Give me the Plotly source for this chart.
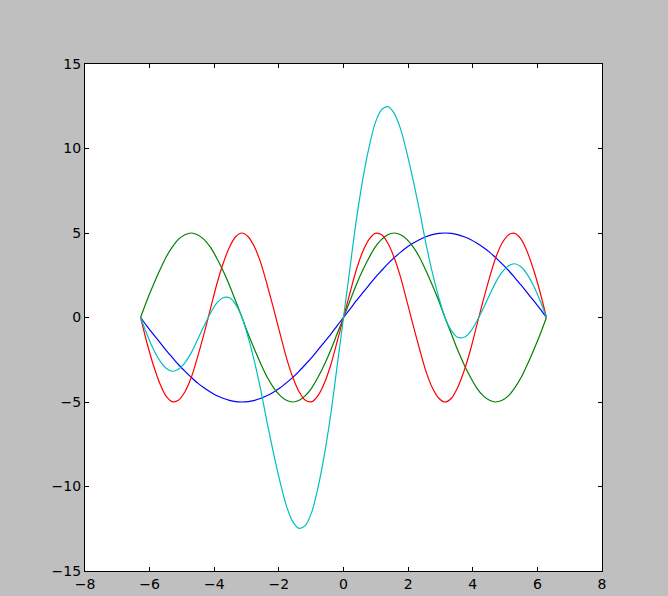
import plotly.graph_objects as go

# x sampled every pi/16 from -2pi to 2pi
x = [-6.28, -6.09, -5.89, -5.69, -5.50, -5.30, -5.11, -4.91, -4.71,
     -4.52, -4.32, -4.12, -3.93, -3.73, -3.53, -3.34, -3.14,
     -2.95, -2.75, -2.55, -2.36, -2.16, -1.96, -1.77, -1.57,
     -1.37, -1.18, -0.98, -0.79, -0.59, -0.39, -0.20, 0.00,
     0.20, 0.39, 0.59, 0.79, 0.98, 1.18, 1.37, 1.57,
     1.77, 1.96, 2.16, 2.36, 2.55, 2.75, 2.95, 3.14,
     3.34, 3.53, 3.73, 3.93, 4.12, 4.32, 4.52, 4.71,
     4.91, 5.11, 5.30, 5.50, 5.69, 5.89, 6.09, 6.28]

blue = [0, -0.49, -0.98, -1.45, -1.91, -2.36, -2.78, -3.17, -3.54,
        -3.87, -4.16, -4.41, -4.62, -4.78, -4.90, -4.98, -5.00,
        -4.98, -4.90, -4.78, -4.62, -4.41, -4.16, -3.87, -3.54,
        -3.17, -2.78, -2.36, -1.91, -1.45, -0.98, -0.49, 0,
        0.49, 0.98, 1.45, 1.91, 2.36, 2.78, 3.17, 3.54,
        3.87, 4.16, 4.41, 4.62, 4.78, 4.90, 4.98, 5.00,
        4.98, 4.90, 4.78, 4.62, 4.41, 4.16, 3.87, 3.54,
        3.17, 2.78, 2.36, 1.91, 1.45, 0.98, 0.49, 0]

green = [0, 0.98, 1.91, 2.78, 3.54, 4.16, 4.62, 4.90, 5.00,
         4.90, 4.62, 4.16, 3.54, 2.78, 1.91, 0.98, 0,
         -0.98, -1.91, -2.78, -3.54, -4.16, -4.62, -4.90, -5.00,
         -4.90, -4.62, -4.16, -3.54, -2.78, -1.91, -0.98, 0,
         0.98, 1.91, 2.78, 3.54, 4.16, 4.62, 4.90, 5.00,
         4.90, 4.62, 4.16, 3.54, 2.78, 1.91, 0.98, 0,
         -0.98, -1.91, -2.78, -3.54, -4.16, -4.62, -4.90, -5.00,
         -4.90, -4.62, -4.16, -3.54, -2.78, -1.91, -0.98, 0]

red = [0, -1.45, -2.78, -3.87, -4.62, -4.98, -4.90, -4.41, -3.54,
       -2.36, -0.98, 0.49, 1.91, 3.17, 4.16, 4.78, 5.00,
       4.78, 4.16, 3.17, 1.91, 0.49, -0.98, -2.36, -3.54,
       -4.41, -4.90, -4.98, -4.62, -3.87, -2.78, -1.45, 0,
       1.45, 2.78, 3.87, 4.62, 4.98, 4.90, 4.41, 3.54,
       2.36, 0.98, -0.49, -1.91, -3.17, -4.16, -4.78, -5.00,
       -4.78, -4.16, -3.17, -1.91, -0.49, 0.98, 2.36, 3.54,
       4.41, 4.90, 4.98, 4.62, 3.87, 2.78, 1.45, 0]

cyan = [0, -0.96, -1.85, -2.54, -2.99, -3.18, -3.06, -2.68, -2.08,
        -1.33, -0.52, 0.24, 0.83, 1.17, 1.17, 0.78, 0,
        -1.18, -2.65, -4.39, -6.25, -8.08, -9.76, -11.13, -12.08,
        -12.48, -12.30, -11.50, -10.07, -8.10, -5.67, -2.92, 0,
        2.92, 5.67, 8.10, 10.07, 11.50, 12.30, 12.48, 12.08,
        11.13, 9.76, 8.08, 6.25, 4.39, 2.65, 1.18, 0,
        -0.78, -1.17, -1.17, -0.83, -0.24, 0.52, 1.33, 2.08,
        2.68, 3.06, 3.18, 2.99, 2.54, 1.85, 0.96, 0]

series = [("blue", blue, "#0000ff"), ("green", green, "#008000"),
          ("red", red, "#ff0000"), ("cyan", cyan, "#00bfbf")]

fig = go.Figure()
for name, y, color in series:
    fig.add_trace(go.Scatter(x=x, y=y, mode="lines", name=name,
                             line=dict(color=color, width=1.2, shape="spline", smoothing=0.8)))

axis_style = dict(showgrid=False, zeroline=False, showline=True, linecolor="black",
                  linewidth=1.2, mirror="allticks", ticks="inside", ticklen=4,
                  tickcolor="black", automargin=False,
                  tickfont=dict(family="DejaVu Sans", size=14, color="black"))

fig.update_layout(
    width=668, height=596,
    margin=dict(l=85, r=66, t=64, b=25),
    paper_bgcolor="#bfbfbf", plot_bgcolor="white",
    showlegend=False,
    xaxis=dict(range=[-8, 8], dtick=2, **axis_style),
    yaxis=dict(range=[-15, 15], dtick=5, **axis_style),
)

# drop the default page margin so the figure sits at the window corner
fig.write_html("out.html", config={"displayModeBar": False},
               post_script="document.body.style.margin='0';document.body.style.background='#bfbfbf';")
